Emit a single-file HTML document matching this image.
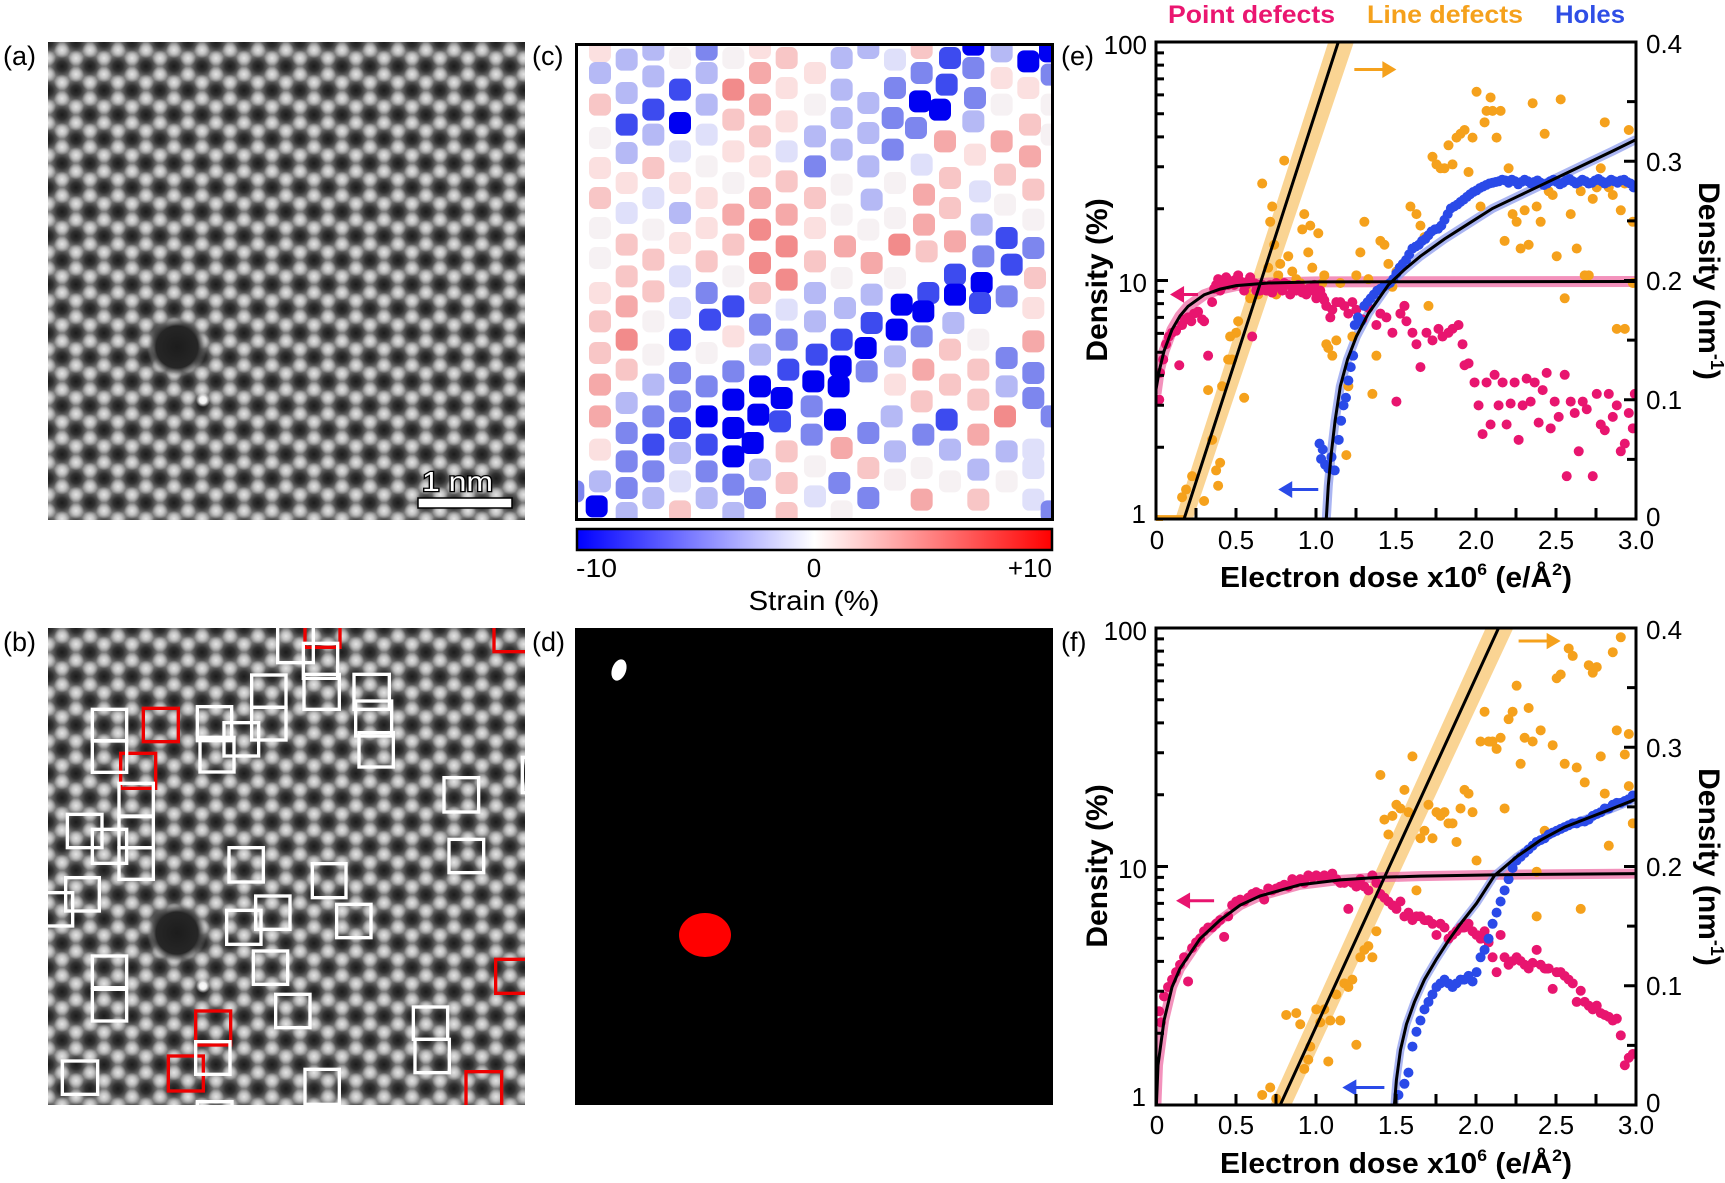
<!DOCTYPE html>
<html><head><meta charset="utf-8"><style>
html,body{margin:0;padding:0;background:#fff}
svg{display:block}
text{font-family:"Liberation Sans",Arial,sans-serif}
.D{fill:#0000f2}.B{fill:#3d4bef}.M{fill:#7d86ee}.L{fill:#b5b9f5}.V{fill:#dfe0fa}.F{fill:#f6f1f3}
.P0{fill:#fbe0e0}.P1{fill:#f8c6c6}.P2{fill:#f5a9a9}.R{fill:#f28b8b}
.dots{fill:none;stroke-linecap:round;stroke-width:10}
</style></head><body>
<svg width="1725" height="1183" viewBox="0 0 1725 1183" xmlns="http://www.w3.org/2000/svg" xmlns:xlink="http://www.w3.org/1999/xlink">
<defs>
<radialGradient id="ga"><stop offset="0" stop-color="#e4e4e4"/><stop offset="0.45" stop-color="#cdcdcd" stop-opacity="0.9"/><stop offset="1" stop-color="#cdcdcd" stop-opacity="0"/></radialGradient>
<radialGradient id="gd"><stop offset="0" stop-color="#1c1c1c"/><stop offset="0.4" stop-color="#222" stop-opacity="0.85"/><stop offset="1" stop-color="#222" stop-opacity="0"/></radialGradient>
<radialGradient id="gh"><stop offset="0" stop-color="#1c1c1c"/><stop offset="0.7" stop-color="#262626"/><stop offset="0.85" stop-color="#555" stop-opacity="0.6"/><stop offset="1" stop-color="#999" stop-opacity="0"/></radialGradient>
<radialGradient id="gs"><stop offset="0" stop-color="#ffffff"/><stop offset="0.5" stop-color="#f0f0f0"/><stop offset="1" stop-color="#f0f0f0" stop-opacity="0"/></radialGradient>
<pattern id="lat" patternUnits="userSpaceOnUse" x="48" y="42" width="28" height="48.5">
<rect width="28" height="48.5" fill="#7e7e7e"/>
<circle cx="0" cy="0" r="12" fill="url(#gd)"/><circle cx="28" cy="0" r="12" fill="url(#gd)"/>
<circle cx="0" cy="48.5" r="12" fill="url(#gd)"/><circle cx="28" cy="48.5" r="12" fill="url(#gd)"/>
<circle cx="14" cy="24.25" r="12" fill="url(#gd)"/>
<circle cx="0" cy="16.17" r="8" fill="url(#ga)"/><circle cx="28" cy="16.17" r="8" fill="url(#ga)"/>
<circle cx="0" cy="32.33" r="8" fill="url(#ga)"/><circle cx="28" cy="32.33" r="8" fill="url(#ga)"/>
<circle cx="14" cy="8.08" r="8" fill="url(#ga)"/><circle cx="14" cy="40.42" r="8" fill="url(#ga)"/>
</pattern>
<linearGradient id="cb" x1="0" x2="1" y1="0" y2="0"><stop offset="0" stop-color="#0000ff"/><stop offset="0.5" stop-color="#ffffff"/><stop offset="1" stop-color="#ff0000"/></linearGradient>
<clipPath id="cpa"><rect x="48" y="42" width="477" height="478"/></clipPath>
<clipPath id="cpb"><rect x="48" y="628" width="477" height="477"/></clipPath>
<clipPath id="cpc"><rect x="577" y="45" width="475" height="474"/></clipPath>
<clipPath id="cpe"><rect x="1156" y="40" width="480" height="481"/></clipPath>
<clipPath id="cpf"><rect x="1156" y="626" width="480" height="481"/></clipPath>
<rect id="dt" x="-33" y="-33" width="66" height="66" rx="20"/>
<g id="img">
<rect x="48" y="42" width="477" height="478" fill="url(#lat)"/>
<circle cx="177" cy="347" r="30" fill="url(#gh)"/>
<circle cx="203" cy="400" r="7" fill="url(#gs)"/>
</g>
</defs>
<rect width="1725" height="1183" fill="#fff"/>

<!-- (a) -->
<g clip-path="url(#cpa)"><use xlink:href="#img"/></g>
<rect x="418" y="498" width="94" height="10" fill="#fff" stroke="#000" stroke-width="1.5"/>
<text x="422" y="491" font-size="28" fill="#fff" stroke="#000" stroke-width="2.5" paint-order="stroke" textLength="71" lengthAdjust="spacingAndGlyphs">1 nm</text>

<!-- (b) -->
<g clip-path="url(#cpb)"><use xlink:href="#img" y="586"/>
<g transform="translate(40 620) scale(0.33333)" fill="none" stroke-width="10">
<g stroke="#ee0000">
<rect x="310" y="265" width="105" height="100"/><rect x="242" y="400" width="105" height="105"/>
<rect x="795" y="-30" width="105" height="112"/><rect x="1362" y="-10" width="110" height="105"/>
<rect x="1367" y="1018" width="110" height="102"/><rect x="467" y="1173" width="105" height="102"/>
<rect x="385" y="1308" width="105" height="105"/><rect x="1278" y="1355" width="107" height="110"/>
</g>
<g stroke="#ffffff">
<rect x="713" y="15" width="107" height="113"/><rect x="790" y="70" width="103" height="105"/>
<rect x="792" y="163" width="106" height="105"/><rect x="635" y="165" width="103" height="97"/>
<rect x="635" y="262" width="103" height="98"/><rect x="942" y="163" width="106" height="105"/>
<rect x="947" y="243" width="108" height="105"/><rect x="957" y="338" width="103" height="103"/>
<rect x="157" y="268" width="103" height="95"/><rect x="157" y="362" width="103" height="95"/>
<rect x="472" y="260" width="103" height="102"/><rect x="480" y="352" width="102" height="104"/>
<rect x="552" y="308" width="104" height="100"/><rect x="237" y="490" width="103" height="100"/>
<rect x="237" y="588" width="103" height="95"/><rect x="237" y="683" width="103" height="95"/>
<rect x="82" y="583" width="104" height="100"/><rect x="157" y="628" width="103" height="102"/>
<rect x="77" y="773" width="101" height="100"/><rect x="12" y="818" width="86" height="100"/>
<rect x="1212" y="473" width="104" height="103"/><rect x="1227" y="658" width="104" height="100"/>
<rect x="567" y="683" width="103" height="103"/><rect x="817" y="731" width="101" height="102"/>
<rect x="647" y="828" width="103" height="100"/><rect x="560" y="871" width="103" height="102"/>
<rect x="890" y="853" width="103" height="100"/><rect x="157" y="1008" width="103" height="95"/>
<rect x="157" y="1108" width="103" height="95"/><rect x="640" y="993" width="103" height="100"/>
<rect x="707" y="1123" width="103" height="100"/><rect x="467" y="1265" width="103" height="98"/>
<rect x="1120" y="1161" width="103" height="97"/><rect x="1125" y="1258" width="103" height="100"/>
<rect x="67" y="1323" width="106" height="100"/><rect x="795" y="1348" width="103" height="105"/>
<rect x="472" y="1445" width="104" height="60"/><rect x="1447" y="412" width="60" height="106"/>
</g></g></g>

<!-- (c) -->
<g clip-path="url(#cpc)"><g transform="translate(570 38) scale(0.33333)">
<use xlink:href="#dt" class="P0" x="90" y="40"/><use xlink:href="#dt" class="L" x="90" y="105"/><use xlink:href="#dt" class="P1" x="90" y="200"/><use xlink:href="#dt" class="F" x="90" y="300"/><use xlink:href="#dt" class="P0" x="90" y="390"/><use xlink:href="#dt" class="P1" x="90" y="480"/><use xlink:href="#dt" class="F" x="90" y="570"/><use xlink:href="#dt" class="F" x="90" y="660"/><use xlink:href="#dt" class="P0" x="90" y="765"/><use xlink:href="#dt" class="P1" x="90" y="850"/><use xlink:href="#dt" class="P1" x="90" y="945"/><use xlink:href="#dt" class="P2" x="90" y="1040"/><use xlink:href="#dt" class="P2" x="90" y="1135"/><use xlink:href="#dt" class="P0" x="90" y="1235"/><use xlink:href="#dt" class="L" x="90" y="1330"/><use xlink:href="#dt" class="D" x="80" y="1405"/><use xlink:href="#dt" class="M" x="10" y="1360"/>
<use xlink:href="#dt" class="L" x="170" y="65"/><use xlink:href="#dt" class="L" x="170" y="165"/><use xlink:href="#dt" class="B" x="170" y="260"/><use xlink:href="#dt" class="L" x="170" y="345"/><use xlink:href="#dt" class="P0" x="170" y="435"/><use xlink:href="#dt" class="V" x="170" y="525"/><use xlink:href="#dt" class="P1" x="170" y="620"/><use xlink:href="#dt" class="P1" x="170" y="715"/><use xlink:href="#dt" class="P2" x="170" y="805"/><use xlink:href="#dt" class="R" x="170" y="905"/><use xlink:href="#dt" class="P1" x="170" y="995"/><use xlink:href="#dt" class="L" x="170" y="1095"/><use xlink:href="#dt" class="M" x="170" y="1185"/><use xlink:href="#dt" class="M" x="170" y="1270"/><use xlink:href="#dt" class="M" x="170" y="1350"/><use xlink:href="#dt" class="L" x="170" y="1425"/>
<use xlink:href="#dt" class="L" x="250" y="35"/><use xlink:href="#dt" class="L" x="250" y="115"/><use xlink:href="#dt" class="B" x="250" y="215"/><use xlink:href="#dt" class="L" x="250" y="290"/><use xlink:href="#dt" class="P1" x="250" y="390"/><use xlink:href="#dt" class="V" x="250" y="480"/><use xlink:href="#dt" class="F" x="250" y="575"/><use xlink:href="#dt" class="P1" x="250" y="665"/><use xlink:href="#dt" class="P1" x="250" y="760"/><use xlink:href="#dt" class="F" x="250" y="850"/><use xlink:href="#dt" class="F" x="250" y="950"/><use xlink:href="#dt" class="L" x="250" y="1040"/><use xlink:href="#dt" class="M" x="250" y="1135"/><use xlink:href="#dt" class="B" x="250" y="1220"/><use xlink:href="#dt" class="M" x="250" y="1300"/><use xlink:href="#dt" class="L" x="250" y="1380"/>
<use xlink:href="#dt" class="F" x="330" y="60"/><use xlink:href="#dt" class="B" x="330" y="155"/><use xlink:href="#dt" class="D" x="330" y="255"/><use xlink:href="#dt" class="V" x="330" y="340"/><use xlink:href="#dt" class="P0" x="330" y="435"/><use xlink:href="#dt" class="L" x="330" y="525"/><use xlink:href="#dt" class="P0" x="330" y="615"/><use xlink:href="#dt" class="V" x="330" y="715"/><use xlink:href="#dt" class="V" x="330" y="810"/><use xlink:href="#dt" class="B" x="330" y="905"/><use xlink:href="#dt" class="M" x="330" y="1005"/><use xlink:href="#dt" class="M" x="330" y="1090"/><use xlink:href="#dt" class="B" x="330" y="1170"/><use xlink:href="#dt" class="L" x="330" y="1245"/><use xlink:href="#dt" class="V" x="330" y="1330"/><use xlink:href="#dt" class="P1" x="330" y="1420"/>
<use xlink:href="#dt" class="M" x="410" y="35"/><use xlink:href="#dt" class="L" x="410" y="105"/><use xlink:href="#dt" class="L" x="410" y="200"/><use xlink:href="#dt" class="V" x="410" y="290"/><use xlink:href="#dt" class="F" x="410" y="385"/><use xlink:href="#dt" class="P0" x="410" y="480"/><use xlink:href="#dt" class="P0" x="410" y="570"/><use xlink:href="#dt" class="P1" x="410" y="670"/><use xlink:href="#dt" class="M" x="410" y="765"/><use xlink:href="#dt" class="B" x="420" y="845"/><use xlink:href="#dt" class="F" x="410" y="945"/><use xlink:href="#dt" class="M" x="410" y="1045"/><use xlink:href="#dt" class="D" x="410" y="1135"/><use xlink:href="#dt" class="B" x="410" y="1220"/><use xlink:href="#dt" class="M" x="410" y="1300"/><use xlink:href="#dt" class="L" x="410" y="1380"/>
<use xlink:href="#dt" class="F" x="490" y="60"/><use xlink:href="#dt" class="R" x="490" y="155"/><use xlink:href="#dt" class="P1" x="490" y="245"/><use xlink:href="#dt" class="P0" x="490" y="340"/><use xlink:href="#dt" class="F" x="490" y="435"/><use xlink:href="#dt" class="P2" x="490" y="530"/><use xlink:href="#dt" class="P1" x="490" y="620"/><use xlink:href="#dt" class="F" x="490" y="715"/><use xlink:href="#dt" class="B" x="490" y="805"/><use xlink:href="#dt" class="P0" x="490" y="895"/><use xlink:href="#dt" class="M" x="490" y="1000"/><use xlink:href="#dt" class="D" x="490" y="1085"/><use xlink:href="#dt" class="D" x="490" y="1170"/><use xlink:href="#dt" class="D" x="490" y="1255"/><use xlink:href="#dt" class="M" x="490" y="1340"/><use xlink:href="#dt" class="L" x="490" y="1425"/>
<use xlink:href="#dt" class="P0" x="570" y="30"/><use xlink:href="#dt" class="P2" x="570" y="105"/><use xlink:href="#dt" class="P2" x="570" y="200"/><use xlink:href="#dt" class="P1" x="570" y="295"/><use xlink:href="#dt" class="P0" x="570" y="385"/><use xlink:href="#dt" class="P2" x="570" y="480"/><use xlink:href="#dt" class="R" x="570" y="575"/><use xlink:href="#dt" class="R" x="570" y="675"/><use xlink:href="#dt" class="P1" x="570" y="765"/><use xlink:href="#dt" class="M" x="570" y="860"/><use xlink:href="#dt" class="L" x="570" y="950"/><use xlink:href="#dt" class="D" x="570" y="1045"/><use xlink:href="#dt" class="D" x="565" y="1130"/><use xlink:href="#dt" class="D" x="548" y="1215"/><use xlink:href="#dt" class="L" x="570" y="1295"/><use xlink:href="#dt" class="M" x="555" y="1380"/>
<use xlink:href="#dt" class="P1" x="650" y="60"/><use xlink:href="#dt" class="P0" x="650" y="150"/><use xlink:href="#dt" class="P0" x="650" y="250"/><use xlink:href="#dt" class="V" x="650" y="340"/><use xlink:href="#dt" class="P1" x="650" y="430"/><use xlink:href="#dt" class="P2" x="650" y="530"/><use xlink:href="#dt" class="R" x="650" y="625"/><use xlink:href="#dt" class="R" x="650" y="725"/><use xlink:href="#dt" class="V" x="650" y="815"/><use xlink:href="#dt" class="M" x="650" y="905"/><use xlink:href="#dt" class="B" x="655" y="995"/><use xlink:href="#dt" class="D" x="635" y="1080"/><use xlink:href="#dt" class="B" x="630" y="1150"/><use xlink:href="#dt" class="P1" x="650" y="1240"/><use xlink:href="#dt" class="P1" x="650" y="1335"/><use xlink:href="#dt" class="P1" x="650" y="1425"/>
<use xlink:href="#dt" class="P0" x="735" y="105"/><use xlink:href="#dt" class="F" x="735" y="200"/><use xlink:href="#dt" class="L" x="735" y="295"/><use xlink:href="#dt" class="M" x="735" y="385"/><use xlink:href="#dt" class="P1" x="735" y="480"/><use xlink:href="#dt" class="P0" x="735" y="570"/><use xlink:href="#dt" class="P1" x="735" y="670"/><use xlink:href="#dt" class="L" x="735" y="765"/><use xlink:href="#dt" class="L" x="735" y="850"/><use xlink:href="#dt" class="B" x="740" y="950"/><use xlink:href="#dt" class="D" x="730" y="1030"/><use xlink:href="#dt" class="M" x="725" y="1105"/><use xlink:href="#dt" class="M" x="725" y="1190"/><use xlink:href="#dt" class="F" x="735" y="1285"/><use xlink:href="#dt" class="V" x="735" y="1375"/>
<use xlink:href="#dt" class="L" x="815" y="60"/><use xlink:href="#dt" class="L" x="815" y="155"/><use xlink:href="#dt" class="L" x="815" y="240"/><use xlink:href="#dt" class="L" x="815" y="335"/><use xlink:href="#dt" class="F" x="815" y="440"/><use xlink:href="#dt" class="F" x="815" y="530"/><use xlink:href="#dt" class="P2" x="825" y="625"/><use xlink:href="#dt" class="F" x="815" y="720"/><use xlink:href="#dt" class="L" x="825" y="810"/><use xlink:href="#dt" class="B" x="815" y="905"/><use xlink:href="#dt" class="D" x="812" y="985"/><use xlink:href="#dt" class="D" x="806" y="1045"/><use xlink:href="#dt" class="D" x="795" y="1145"/><use xlink:href="#dt" class="P2" x="815" y="1230"/><use xlink:href="#dt" class="M" x="808" y="1335"/><use xlink:href="#dt" class="F" x="815" y="1420"/>
<use xlink:href="#dt" class="L" x="895" y="30"/><use xlink:href="#dt" class="L" x="895" y="195"/><use xlink:href="#dt" class="L" x="895" y="285"/><use xlink:href="#dt" class="L" x="895" y="385"/><use xlink:href="#dt" class="L" x="905" y="485"/><use xlink:href="#dt" class="F" x="895" y="575"/><use xlink:href="#dt" class="P2" x="905" y="675"/><use xlink:href="#dt" class="L" x="905" y="770"/><use xlink:href="#dt" class="B" x="905" y="855"/><use xlink:href="#dt" class="D" x="887" y="930"/><use xlink:href="#dt" class="M" x="890" y="1000"/><use xlink:href="#dt" class="M" x="895" y="1185"/><use xlink:href="#dt" class="P1" x="895" y="1290"/><use xlink:href="#dt" class="M" x="895" y="1380"/>
<use xlink:href="#dt" class="V" x="975" y="65"/><use xlink:href="#dt" class="M" x="975" y="150"/><use xlink:href="#dt" class="M" x="968" y="240"/><use xlink:href="#dt" class="M" x="968" y="335"/><use xlink:href="#dt" class="F" x="975" y="435"/><use xlink:href="#dt" class="F" x="975" y="540"/><use xlink:href="#dt" class="R" x="988" y="620"/><use xlink:href="#dt" class="F" x="975" y="720"/><use xlink:href="#dt" class="D" x="995" y="800"/><use xlink:href="#dt" class="D" x="980" y="875"/><use xlink:href="#dt" class="L" x="975" y="955"/><use xlink:href="#dt" class="P0" x="975" y="1040"/><use xlink:href="#dt" class="L" x="965" y="1135"/><use xlink:href="#dt" class="L" x="975" y="1240"/><use xlink:href="#dt" class="F" x="975" y="1325"/>
<use xlink:href="#dt" class="P1" x="1055" y="30"/><use xlink:href="#dt" class="M" x="1055" y="105"/><use xlink:href="#dt" class="D" x="1050" y="190"/><use xlink:href="#dt" class="D" x="1110" y="215"/><use xlink:href="#dt" class="M" x="1038" y="270"/><use xlink:href="#dt" class="V" x="1055" y="380"/><use xlink:href="#dt" class="P2" x="1062" y="470"/><use xlink:href="#dt" class="P2" x="1062" y="560"/><use xlink:href="#dt" class="P1" x="1070" y="640"/><use xlink:href="#dt" class="B" x="1075" y="765"/><use xlink:href="#dt" class="D" x="1060" y="820"/><use xlink:href="#dt" class="M" x="1055" y="895"/><use xlink:href="#dt" class="P2" x="1060" y="995"/><use xlink:href="#dt" class="P1" x="1055" y="1090"/><use xlink:href="#dt" class="M" x="1060" y="1190"/><use xlink:href="#dt" class="F" x="1055" y="1290"/><use xlink:href="#dt" class="P2" x="1055" y="1385"/>
<use xlink:href="#dt" class="B" x="1140" y="60"/><use xlink:href="#dt" class="B" x="1130" y="140"/><use xlink:href="#dt" class="P2" x="1125" y="310"/><use xlink:href="#dt" class="P1" x="1140" y="420"/><use xlink:href="#dt" class="P1" x="1140" y="510"/><use xlink:href="#dt" class="P2" x="1155" y="610"/><use xlink:href="#dt" class="B" x="1155" y="710"/><use xlink:href="#dt" class="D" x="1155" y="770"/><use xlink:href="#dt" class="L" x="1150" y="855"/><use xlink:href="#dt" class="P1" x="1140" y="935"/><use xlink:href="#dt" class="P1" x="1140" y="1040"/><use xlink:href="#dt" class="B" x="1130" y="1145"/><use xlink:href="#dt" class="L" x="1140" y="1235"/><use xlink:href="#dt" class="F" x="1140" y="1330"/>
<use xlink:href="#dt" class="D" x="1210" y="20"/><use xlink:href="#dt" class="M" x="1210" y="90"/><use xlink:href="#dt" class="M" x="1215" y="180"/><use xlink:href="#dt" class="L" x="1210" y="250"/><use xlink:href="#dt" class="P0" x="1215" y="350"/><use xlink:href="#dt" class="V" x="1230" y="460"/><use xlink:href="#dt" class="L" x="1235" y="560"/><use xlink:href="#dt" class="M" x="1240" y="655"/><use xlink:href="#dt" class="D" x="1235" y="735"/><use xlink:href="#dt" class="B" x="1230" y="795"/><use xlink:href="#dt" class="F" x="1225" y="905"/><use xlink:href="#dt" class="P1" x="1225" y="995"/><use xlink:href="#dt" class="P1" x="1225" y="1085"/><use xlink:href="#dt" class="P2" x="1225" y="1190"/><use xlink:href="#dt" class="L" x="1225" y="1295"/><use xlink:href="#dt" class="P1" x="1225" y="1385"/>
<use xlink:href="#dt" class="L" x="1295" y="40"/><use xlink:href="#dt" class="P0" x="1295" y="120"/><use xlink:href="#dt" class="F" x="1295" y="200"/><use xlink:href="#dt" class="P2" x="1295" y="310"/><use xlink:href="#dt" class="P1" x="1305" y="410"/><use xlink:href="#dt" class="F" x="1305" y="500"/><use xlink:href="#dt" class="B" x="1310" y="600"/><use xlink:href="#dt" class="B" x="1325" y="680"/><use xlink:href="#dt" class="M" x="1310" y="775"/><use xlink:href="#dt" class="M" x="1310" y="960"/><use xlink:href="#dt" class="L" x="1310" y="1045"/><use xlink:href="#dt" class="R" x="1305" y="1135"/><use xlink:href="#dt" class="L" x="1310" y="1240"/><use xlink:href="#dt" class="F" x="1310" y="1330"/>
<use xlink:href="#dt" class="D" x="1375" y="70"/><use xlink:href="#dt" class="P0" x="1375" y="150"/><use xlink:href="#dt" class="P1" x="1380" y="260"/><use xlink:href="#dt" class="P2" x="1380" y="355"/><use xlink:href="#dt" class="P1" x="1390" y="455"/><use xlink:href="#dt" class="F" x="1390" y="545"/><use xlink:href="#dt" class="M" x="1390" y="630"/><use xlink:href="#dt" class="P1" x="1395" y="720"/><use xlink:href="#dt" class="P0" x="1390" y="810"/><use xlink:href="#dt" class="P2" x="1390" y="910"/><use xlink:href="#dt" class="M" x="1390" y="1005"/><use xlink:href="#dt" class="M" x="1390" y="1080"/><use xlink:href="#dt" class="V" x="1390" y="1235"/><use xlink:href="#dt" class="V" x="1390" y="1290"/><use xlink:href="#dt" class="V" x="1390" y="1385"/>
<use xlink:href="#dt" class="D" x="1440" y="40"/><use xlink:href="#dt" class="M" x="1445" y="110"/><use xlink:href="#dt" class="F" x="1445" y="200"/><use xlink:href="#dt" class="F" x="1445" y="290"/><use xlink:href="#dt" class="M" x="1445" y="1135"/><use xlink:href="#dt" class="M" x="1445" y="1420"/>
</g></g>
<rect x="576.5" y="44.5" width="476" height="475" fill="none" stroke="#000" stroke-width="3"/>
<rect x="577" y="529" width="475" height="21" fill="url(#cb)" stroke="#000" stroke-width="2.5"/>
<text x="576" y="577" font-size="26" textLength="41" lengthAdjust="spacingAndGlyphs">-10</text>
<text x="814" y="577" font-size="26" text-anchor="middle">0</text>
<text x="1052" y="577" font-size="26" text-anchor="end">+10</text>
<text x="814" y="610" font-size="28" text-anchor="middle" textLength="131" lengthAdjust="spacingAndGlyphs">Strain (%)</text>

<!-- (d) -->
<rect x="575" y="628" width="478" height="477" fill="#000"/>
<ellipse cx="619" cy="670" rx="7" ry="11" transform="rotate(20 619 670)" fill="#fff"/>
<ellipse cx="705" cy="935" rx="26" ry="22" fill="#ff0000"/>

<!-- panel labels -->
<g font-size="27">
<text x="3" y="65">(a)</text><text x="532" y="65">(c)</text><text x="1061" y="65">(e)</text>
<text x="3" y="651">(b)</text><text x="532" y="651">(d)</text><text x="1061" y="651">(f)</text>
</g>

<!-- legend -->
<g font-size="25" font-weight="bold">
<text x="1168" y="23" fill="#ea1670" textLength="167" lengthAdjust="spacingAndGlyphs">Point defects</text>
<text x="1367" y="23" fill="#f5a11c" textLength="156" lengthAdjust="spacingAndGlyphs">Line defects</text>
<text x="1555" y="23" fill="#2f4ee6" textLength="70" lengthAdjust="spacingAndGlyphs">Holes</text>
</g>

<!-- (e) plot -->
<g clip-path="url(#cpe)"><g transform="translate(1156 519) scale(0.40067 0.38252) translate(-140 -1357)">
<polygon points="188,1357 232,1357 634,110 570,110" fill="#f9cd80" opacity="0.85"/>
<path d="M140 1352H212" stroke="#f5a11c" stroke-width="4" vector-effect="non-scaling-stroke" fill="none"/>
<path d="M140 1030L148 970L160 918L180 862L200 826L220 801L260 771L300 756L340 747L420 740L539 737L1338 736" fill="none" stroke="#ef6ea6" stroke-width="11" opacity="0.75" vector-effect="non-scaling-stroke"/>
<path d="M565 1357L570 1270L577 1190L587 1100L600 1010L618 940L640 880L670 820L700 775L720 745L760 705L800 670L860 625L920 585L980 545L1040 515L1100 485L1160 455L1220 425L1280 395L1338 365" fill="none" stroke="#95a3f0" stroke-width="9" opacity="0.8" vector-effect="non-scaling-stroke"/>
<path class="dots" stroke="#f5a11c" vector-effect="non-scaling-stroke" d="M145 1360h.1M205 1300h.1M215 1280h.1M230 1245h.1M260 1310h.1M270 1020h.1M280 1150h.1M290 1230h.1M295 1270h.1M300 1210h.1M305 1010h.1M320 940h.1M325 880h.1M330 940h.1M340 870h.1M345 840h.1M360 1040h.1M365 760h.1M375 780h.1M395 770h.1M405 480h.1M420 700h.1M425 580h.1M430 540h.1M435 640h.1M440 770h.1M445 720h.1M450 690h.1M460 420h.1M470 670h.1M480 710h.1M490 730h.1M500 740h.1M505 600h.1M510 560h.1M520 660h.1M525 590h.1M530 700h.1M545 610h.1M555 740h.1M560 720h.1M565 900h.1M570 910h.1M580 930h.1M590 890h.1M600 740h.1M615 1190h.1M620 1010h.1M630 880h.1M640 720h.1M650 660h.1M660 580h.1M670 730h.1M680 1030h.1M690 930h.1M700 630h.1M710 640h.1M720 690h.1M730 750h.1M740 710h.1M750 820h.1M760 800h.1M775 540h.1M790 560h.1M800 590h.1M810 620h.1M820 800h.1M830 410h.1M840 430h.1M850 440h.1M860 440h.1M870 380h.1M880 430h.1M890 360h.1M900 350h.1M910 340h.1M920 450h.1M930 360h.1M940 240h.1M950 540h.1M960 320h.1M965 290h.1M975 255h.1M980 290h.1M990 360h.1M1000 290h.1M1010 630h.1M1020 440h.1M1030 560h.1M1040 580h.1M1050 650h.1M1060 550h.1M1070 640h.1M1080 270h.1M1090 540h.1M1100 580h.1M1110 350h.1M1120 500h.1M1130 510h.1M1140 670h.1M1150 260h.1M1160 780h.1M1175 560h.1M1190 650h.1M1200 500h.1M1210 720h.1M1220 720h.1M1230 520h.1M1240 490h.1M1250 440h.1M1260 320h.1M1270 490h.1M1280 510h.1M1290 860h.1M1300 550h.1M1310 480h.1M1320 340h.1M1330 580h.1M1330 740h.1M1310 860h.1"/>
<path class="dots" stroke="#e8156f" vector-effect="non-scaling-stroke" d="M148 1045h.1M150 975h.1M158 940h.1M165 900h.1M172 880h.1M180 870h.1M190 865h.1M198 955h.1M205 850h.1M212 835h.1M220 830h.1M228 840h.1M235 820h.1M245 815h.1M255 835h.1M260 840h.1M270 930h.1M280 790h.1M285 755h.1M290 745h.1M295 730h.1M300 760h.1M305 750h.1M310 740h.1M315 725h.1M320 745h.1M330 735h.1M335 745h.1M340 730h.1M345 720h.1M350 735h.1M355 740h.1M360 760h.1M365 745h.1M370 735h.1M375 725h.1M380 880h.1M385 740h.1M390 760h.1M395 745h.1M400 760h.1M405 745h.1M410 755h.1M415 760h.1M425 745h.1M430 765h.1M440 740h.1M445 750h.1M455 760h.1M460 740h.1M470 745h.1M475 770h.1M480 750h.1M490 760h.1M495 745h.1M500 750h.1M505 765h.1M515 770h.1M520 755h.1M530 760h.1M535 745h.1M540 780h.1M545 770h.1M550 760h.1M555 775h.1M560 785h.1M565 800h.1M575 830h.1M580 810h.1M590 790h.1M600 790h.1M610 800h.1M620 820h.1M630 790h.1M640 810h.1M655 835h.1M670 805h.1M690 850h.1M700 820h.1M715 830h.1M730 870h.1M740 1050h.1M750 820h.1M760 800h.1M765 840h.1M780 870h.1M790 900h.1M800 960h.1M815 870h.1M830 890h.1M845 860h.1M855 880h.1M870 870h.1M880 860h.1M895 850h.1M905 900h.1M910 955h.1M920 950h.1M935 1000h.1M945 1060h.1M955 1135h.1M965 1000h.1M975 1110h.1M985 980h.1M995 1060h.1M1005 1000h.1M1015 1110h.1M1025 1055h.1M1035 1000h.1M1045 1150h.1M1055 1060h.1M1065 990h.1M1075 1050h.1M1085 1000h.1M1095 1105h.1M1105 1020h.1M1115 975h.1M1125 1120h.1M1135 1050h.1M1145 1090h.1M1160 980h.1M1165 1245h.1M1175 1050h.1M1185 1080h.1M1195 1180h.1M1205 1050h.1M1215 1070h.1M1230 1245h.1M1240 1030h.1M1250 1110h.1M1260 1125h.1M1270 1030h.1M1280 1090h.1M1290 1060h.1M1300 1180h.1M1310 1160h.1M1320 1080h.1M1330 1120h.1M1335 1030h.1"/>
<path class="dots" stroke="#2a4ae8" vector-effect="non-scaling-stroke" d="M548 1160h.1M552 1200h.1M556 1175h.1M562 1215h.1M570 1225h.1M578 1195h.1M586 1230h.1M596 1150h.1M602 1100h.1M608 1060h.1M614 1040h.1M620 995h.1M626 960h.1M632 930h.1M636 850h.1M644 830h.1M652 840h.1M660 800h.1M668 790h.1M676 780h.1M684 770h.1M692 760h.1M700 755h.1M708 750h.1M716 745h.1M724 740h.1M732 730h.1M740 715h.1M748 700h.1M756 690h.1M764 680h.1M772 665h.1M780 650h.1M788 645h.1M796 640h.1M804 630h.1M812 625h.1M820 615h.1M828 605h.1M836 600h.1M844 598h.1M852 590h.1M860 575h.1M868 560h.1M876 545h.1M884 540h.1M892 535h.1M900 528h.1M908 522h.1M916 515h.1M924 508h.1M932 502h.1M940 498h.1M948 492h.1M956 488h.1M964 484h.1M972 480h.1M980 478h.1M988 476h.1M996 474h.1M1004 470h.1M1012 472h.1M1020 478h.1M1028 470h.1M1036 474h.1M1044 482h.1M1052 476h.1M1060 470h.1M1068 474h.1M1076 480h.1M1084 476h.1M1092 472h.1M1100 478h.1M1108 484h.1M1116 480h.1M1124 474h.1M1132 470h.1M1140 476h.1M1148 482h.1M1156 478h.1M1164 472h.1M1172 468h.1M1180 474h.1M1188 480h.1M1196 476h.1M1204 470h.1M1212 474h.1M1220 480h.1M1228 478h.1M1236 472h.1M1244 468h.1M1252 474h.1M1260 480h.1M1268 476h.1M1276 470h.1M1284 474h.1M1292 478h.1M1300 472h.1M1308 470h.1M1316 476h.1M1324 480h.1M1332 490h.1"/>
<g fill="none" stroke="#000" stroke-width="3">
<path d="M210 1357L595 110" vector-effect="non-scaling-stroke"/>
<path d="M140 1018L148 970L160 918L180 862L200 826L220 801L260 771L300 756L340 747L420 740L539 737L1338 736" vector-effect="non-scaling-stroke"/>
<path d="M565 1357L570 1270L577 1190L587 1100L600 1010L618 940L640 880L670 820L700 775L720 745L760 705L800 670L860 625L920 585L980 545L1040 515L1100 485L1160 455L1220 425L1280 395L1338 365" vector-effect="non-scaling-stroke"/>
</g>
<path d="M245 770H200" stroke="#e8156f" stroke-width="3" vector-effect="non-scaling-stroke"/>
<polygon points="175,770 210,748 210,792" fill="#e8156f"/>
<path d="M635 182H715" stroke="#f5a11c" stroke-width="3" vector-effect="non-scaling-stroke"/>
<polygon points="740,182 705,160 705,204" fill="#f5a11c"/>
<path d="M545 1280H470" stroke="#2a4ae8" stroke-width="3" vector-effect="non-scaling-stroke"/>
<polygon points="445,1280 480,1258 480,1302" fill="#2a4ae8"/>
</g></g>

<!-- (f) plot -->
<g clip-path="url(#cpf)"><g transform="translate(1156 1105) scale(0.40067 0.37207) translate(-140 -1357)">
<polygon points="425,1357 478,1357 1032,75 963,75" fill="#f9cd80" opacity="0.85"/>
<path d="M141 1357L145 1250L160 1130L180 1040L200 990L250 910L300 860L350 820L400 795L500 765L600 752L700 745L800 742L1000 738L1338 735" fill="none" stroke="#ef6ea6" stroke-width="10" opacity="0.75" vector-effect="non-scaling-stroke"/>
<path d="M735 1357L740 1290L750 1210L765 1140L785 1080L810 1020L840 965L870 915L900 870L940 815L985 740L1040 690L1100 645L1160 610L1220 585L1280 560L1338 535" fill="none" stroke="#95a3f0" stroke-width="8" opacity="0.8" vector-effect="non-scaling-stroke"/>
<path class="dots" stroke="#f5a11c" vector-effect="non-scaling-stroke" d="M405 1330h.1M425 1310h.1M440 1340h.1M465 1115h.1M490 1110h.1M500 1140h.1M510 1260h.1M520 1235h.1M525 1200h.1M540 1100h.1M550 1135h.1M560 1100h.1M570 1240h.1M575 1130h.1M590 1060h.1M600 1130h.1M610 1030h.1M620 1040h.1M630 1020h.1M640 1195h.1M650 960h.1M660 940h.1M670 930h.1M680 960h.1M690 890h.1M700 470h.1M710 590h.1M720 630h.1M730 580h.1M740 550h.1M750 560h.1M760 510h.1M770 570h.1M780 420h.1M790 780h.1M800 640h.1M810 620h.1M820 550h.1M830 640h.1M840 570h.1M850 580h.1M860 570h.1M870 600h.1M880 600h.1M890 650h.1M900 560h.1M910 510h.1M920 520h.1M930 570h.1M940 700h.1M950 380h.1M960 300h.1M970 380h.1M980 380h.1M990 400h.1M1000 370h.1M1010 560h.1M1020 320h.1M1030 300h.1M1040 230h.1M1050 440h.1M1060 370h.1M1070 290h.1M1080 380h.1M1090 730h.1M1090 850h.1M1100 350h.1M1110 620h.1M1120 630h.1M1130 390h.1M1140 210h.1M1150 200h.1M1160 440h.1M1170 130h.1M1180 150h.1M1190 450h.1M1200 830h.1M1210 490h.1M1220 175h.1M1230 195h.1M1240 180h.1M1250 420h.1M1260 520h.1M1270 660h.1M1280 140h.1M1290 350h.1M1300 100h.1M1310 415h.1M1320 360h.1M1320 500h.1M1330 600h.1"/>
<path class="dots" stroke="#e8156f" vector-effect="non-scaling-stroke" d="M148 1105h.1M152 1135h.1M160 1065h.1M170 1040h.1M180 1020h.1M190 1000h.1M200 980h.1M210 960h.1M220 1025h.1M230 935h.1M240 920h.1M250 910h.1M260 890h.1M270 880h.1M280 880h.1M290 870h.1M300 860h.1M310 905h.1M320 850h.1M330 820h.1M340 810h.1M350 805h.1M360 810h.1M370 800h.1M380 790h.1M390 785h.1M400 790h.1M410 805h.1M420 775h.1M430 780h.1M440 775h.1M450 770h.1M460 765h.1M470 770h.1M480 750h.1M490 760h.1M500 750h.1M510 760h.1M520 740h.1M530 745h.1M540 740h.1M550 745h.1M560 740h.1M570 745h.1M580 735h.1M590 750h.1M600 760h.1M610 760h.1M620 830h.1M630 760h.1M640 770h.1M650 750h.1M660 770h.1M670 780h.1M680 740h.1M690 760h.1M700 790h.1M710 800h.1M720 810h.1M730 820h.1M740 830h.1M750 810h.1M760 850h.1M770 840h.1M780 860h.1M790 850h.1M800 850h.1M810 860h.1M820 860h.1M830 870h.1M840 900h.1M850 870h.1M860 880h.1M870 910h.1M880 900h.1M890 890h.1M900 880h.1M910 880h.1M920 870h.1M930 890h.1M940 900h.1M950 910h.1M960 890h.1M970 920h.1M980 960h.1M990 1000h.1M1000 900h.1M1010 960h.1M1020 980h.1M1030 970h.1M1040 960h.1M1050 970h.1M1060 980h.1M1070 990h.1M1080 975h.1M1090 940h.1M1100 980h.1M1110 990h.1M1120 990h.1M1130 1045h.1M1140 1000h.1M1150 1000h.1M1160 1010h.1M1170 1020h.1M1180 1030h.1M1190 1080h.1M1200 1050h.1M1210 1080h.1M1220 1090h.1M1230 1100h.1M1240 1090h.1M1250 1110h.1M1260 1115h.1M1270 1120h.1M1280 1130h.1M1290 1125h.1M1300 1170h.1M1310 1250h.1M1320 1230h.1M1330 1220h.1"/>
<path class="dots" stroke="#2a4ae8" vector-effect="non-scaling-stroke" d="M745 1330h.1M760 1300h.1M770 1270h.1M780 1200h.1M790 1160h.1M800 1130h.1M810 1100h.1M820 1080h.1M830 1060h.1M840 1040h.1M850 1030h.1M860 1020h.1M870 1030h.1M880 1040h.1M890 1030h.1M900 1020h.1M910 1020h.1M920 1010h.1M930 1025h.1M940 1000h.1M950 960h.1M960 940h.1M970 910h.1M980 870h.1M990 840h.1M1000 810h.1M1010 780h.1M1020 750h.1M1030 720h.1M1040 700h.1M1050 690h.1M1060 680h.1M1070 670h.1M1080 660h.1M1090 650h.1M1100 645h.1M1110 640h.1M1120 630h.1M1130 625h.1M1140 620h.1M1150 615h.1M1160 610h.1M1170 605h.1M1180 600h.1M1190 600h.1M1200 595h.1M1210 595h.1M1220 590h.1M1230 580h.1M1240 575h.1M1250 570h.1M1260 560h.1M1270 560h.1M1280 550h.1M1290 545h.1M1300 545h.1M1310 540h.1M1320 535h.1M1330 525h.1"/>
<g fill="none" stroke="#000" stroke-width="3">
<path d="M450 1357L995 75" vector-effect="non-scaling-stroke"/>
<path d="M141 1357L145 1250L160 1130L180 1040L200 990L250 910L300 860L350 820L400 795L500 765L600 752L700 745L800 742L1000 738L1338 735" vector-effect="non-scaling-stroke"/>
<path d="M735 1357L740 1290L750 1210L765 1140L785 1080L810 1020L840 965L870 915L900 870L940 815L985 740L1040 690L1100 645L1160 610L1220 585L1280 560L1338 535" vector-effect="non-scaling-stroke"/>
</g>
<path d="M285 808H215" stroke="#e8156f" stroke-width="3" vector-effect="non-scaling-stroke"/>
<polygon points="190,808 225,786 225,830" fill="#e8156f"/>
<path d="M1045 110H1125" stroke="#f5a11c" stroke-width="3" vector-effect="non-scaling-stroke"/>
<polygon points="1150,110 1115,88 1115,132" fill="#f5a11c"/>
<path d="M710 1310H630" stroke="#2a4ae8" stroke-width="3" vector-effect="non-scaling-stroke"/>
<polygon points="605,1310 640,1288 640,1332" fill="#2a4ae8"/>
</g></g>

<!-- axes frames & ticks -->
<g fill="none" stroke="#000" stroke-width="3">
<rect x="1156" y="42" width="480" height="477"/>
<rect x="1156" y="628" width="480" height="477"/>
<path d="M1156 447.2h8M1156 405.2h8M1156 375.4h8M1156 352.3h8M1156 333.4h8M1156 317.4h8M1156 303.6h8M1156 291.4h8M1156 280.5h12M1156 208.7h8M1156 166.7h8M1156 136.9h8M1156 113.8h8M1156 94.9h8M1156 78.9h8M1156 65.1h8M1156 52.9h8"/>
<path d="M1156 1033.2h8M1156 991.2h8M1156 961.4h8M1156 938.3h8M1156 919.4h8M1156 903.4h8M1156 889.6h8M1156 877.4h8M1156 866.5h12M1156 794.7h8M1156 752.7h8M1156 722.9h8M1156 699.8h8M1156 680.9h8M1156 664.9h8M1156 651.1h8M1156 638.9h8"/>
<path d="M1196 519v-11M1236 519v-11M1276 519v-11M1316 519v-11M1356 519v-11M1396 519v-11M1436 519v-11M1476 519v-11M1516 519v-11M1556 519v-11M1596 519v-11"/>
<path d="M1196 1105v-11M1236 1105v-11M1276 1105v-11M1316 1105v-11M1356 1105v-11M1396 1105v-11M1436 1105v-11M1476 1105v-11M1516 1105v-11M1556 1105v-11M1596 1105v-11"/>
<path d="M1636 459.4h-9M1636 399.75h-12M1636 340.1h-9M1636 280.5h-12M1636 220.9h-9M1636 161.25h-12M1636 101.6h-9"/>
<path d="M1636 1045.4h-9M1636 985.75h-12M1636 926.1h-9M1636 866.5h-12M1636 806.9h-9M1636 747.25h-12M1636 687.6h-9"/>
</g>

<!-- tick labels -->
<g font-size="26">
<g text-anchor="end">
<text x="1147" y="54">100</text><text x="1147" y="292">10</text><text x="1146" y="523">1</text>
<text x="1147" y="640">100</text><text x="1147" y="878">10</text><text x="1146" y="1106">1</text>
</g>
<g text-anchor="middle">
<text x="1157" y="549">0</text><text x="1236" y="549">0.5</text><text x="1316" y="549">1.0</text><text x="1396" y="549">1.5</text><text x="1476" y="549">2.0</text><text x="1556" y="549">2.5</text><text x="1636" y="549">3.0</text>
<text x="1157" y="1134">0</text><text x="1236" y="1134">0.5</text><text x="1316" y="1134">1.0</text><text x="1396" y="1134">1.5</text><text x="1476" y="1134">2.0</text><text x="1556" y="1134">2.5</text><text x="1636" y="1134">3.0</text>
</g>
<text x="1646" y="53">0.4</text><text x="1646" y="171">0.3</text><text x="1646" y="290">0.2</text><text x="1646" y="409">0.1</text><text x="1646" y="526">0</text>
<text x="1646" y="639">0.4</text><text x="1646" y="757">0.3</text><text x="1646" y="876">0.2</text><text x="1646" y="995">0.1</text><text x="1646" y="1112">0</text>
</g>

<!-- axis titles -->
<g font-weight="bold">
<text x="1396" y="587" font-size="29" text-anchor="middle" textLength="352" lengthAdjust="spacingAndGlyphs">Electron dose x10<tspan font-size="17" dy="-12">6</tspan><tspan dy="12"> (e/Å</tspan><tspan font-size="17" dy="-12">2</tspan><tspan dy="12">)</tspan></text>
<text x="1396" y="1173" font-size="29" text-anchor="middle" textLength="352" lengthAdjust="spacingAndGlyphs">Electron dose x10<tspan font-size="17" dy="-12">6</tspan><tspan dy="12"> (e/Å</tspan><tspan font-size="17" dy="-12">2</tspan><tspan dy="12">)</tspan></text>
<text transform="translate(1107 280) rotate(-90)" font-size="30" text-anchor="middle">Density (%)</text>
<text transform="translate(1107 866) rotate(-90)" font-size="30" text-anchor="middle">Density (%)</text>
<text transform="translate(1699 281) rotate(90)" font-size="30" text-anchor="middle">Density (nm<tspan font-size="18" dy="-12">-1</tspan><tspan dy="12">)</tspan></text>
<text transform="translate(1699 867) rotate(90)" font-size="30" text-anchor="middle">Density (nm<tspan font-size="18" dy="-12">-1</tspan><tspan dy="12">)</tspan></text>
</g>
</svg>
</body></html>
